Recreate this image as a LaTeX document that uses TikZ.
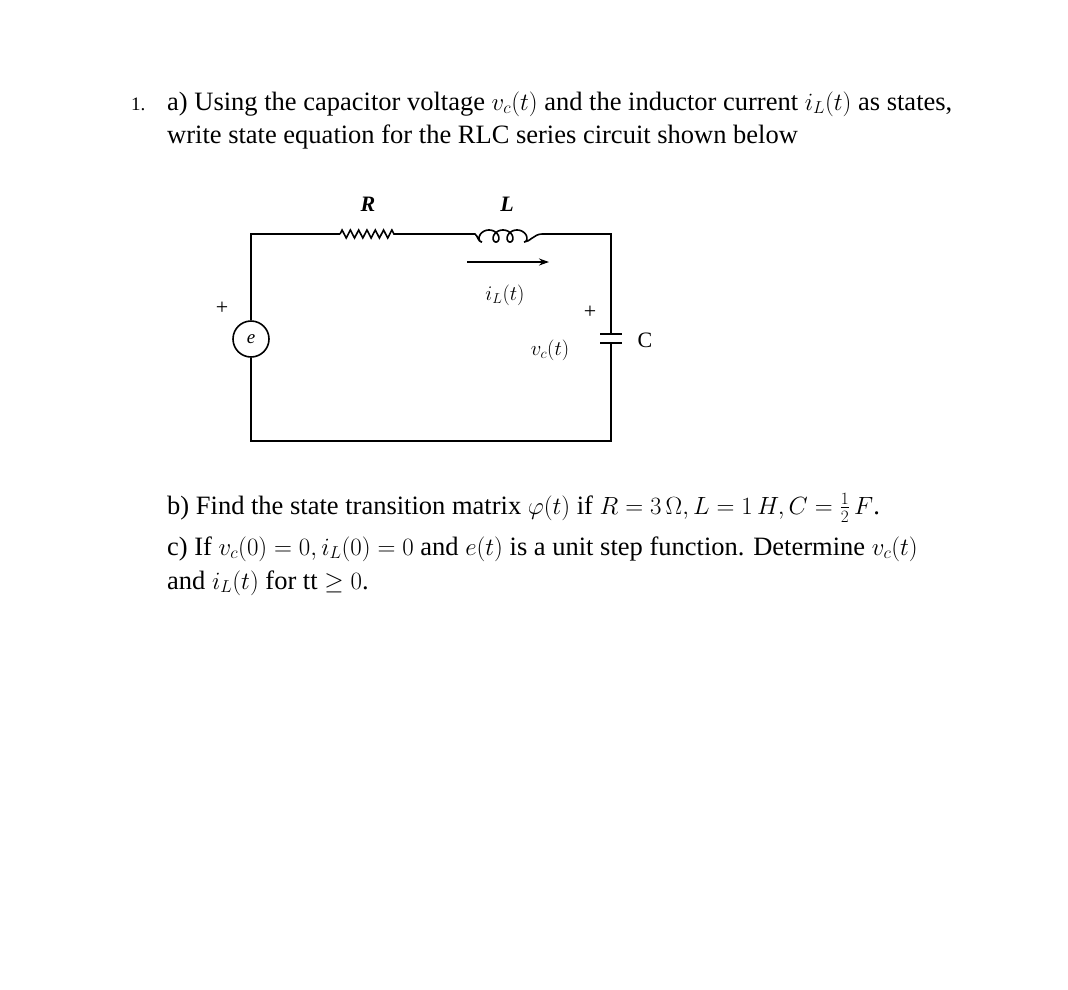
\documentclass[tikz,border=0pt]{standalone}
\usepackage{amsmath}
\usepackage{fontspec}
\setmainfont{Liberation Serif}
\usetikzlibrary{arrows.meta,decorations.pathmorphing}
\begin{document}
\begin{tikzpicture}[x=1pt,y=-1pt,
  txt/.style={anchor=base west,inner sep=0pt,font=\fontsize{26.5}{30}\selectfont},
  lab/.style={inner sep=0pt,font=\fontsize{22}{24}\selectfont},
  wire/.style={line width=1.6pt}]
\fill[white] (0,0) rectangle (1068,989);
\useasboundingbox (0,0) rectangle (1068,989);
\node[txt,font=\fontsize{19}{22}\selectfont] (n1) at (131,110) {1.};
\node[txt] (l1) at (167,110) {a) Using the capacitor voltage $v_c(t)$ and the inductor current $i_L(t)$ as states,};
\node[txt] (l2) at (167,143) {write state equation for the RLC series circuit shown below};
\node[txt] (l3) at (167,514) {b) Find the state transition matrix $\varphi(t)$ if $R=3\,\Omega, L=1\,H, C=\frac{1}{2}\,F$.};
\node[txt] (l4) at (167,555) {c) If $v_c(0)=0, i_L(0)=0$ and $e(t)$ is a unit step function. Determine $v_c(t)$};
\node[txt] (l5) at (167,589) {and $i_L(t)$ for tt $\geq 0$.};
% circuit
\node[draw,circle,wire,minimum size=36pt,inner sep=0pt,font=\fontsize{19}{20}\selectfont\itshape] (e) at (251,339) {e};
\coordinate (tl) at (251,234); \coordinate (tr) at (611,234);
\coordinate (bl) at (251,441); \coordinate (br) at (611,441);
\coordinate (r1) at (340,234); \coordinate (r2) at (398,234);
\coordinate (i1) at (475,234); \coordinate (i2) at (542,234);
\coordinate (c1) at (611,334); \coordinate (c2) at (611,343);
\draw[wire] (e.north) -- (tl) -- (r1);
\draw[wire,decoration={zigzag,segment length=8.3pt,amplitude=4pt},decorate] (r1) -- (r2);
\draw[wire] (r2) -- (i1) .. controls (478,236) and (478,242) .. (482,242)
  plot[domain=0:3,samples=120,smooth] ({482+14*\x-6*sin(360*\x)}, {236+6*cos(360*\x)})
  .. controls (530,242) and (534,234) .. (i2) -- (tr) -- (c1);
\draw[wire] (600,334) -- (622,334);
\draw[wire] (600,343) -- (622,343);
\draw[wire] (c2) -- (br) -- (bl) -- (e.south);
\draw[line width=1.6pt,-{Stealth[length=10pt,width=7pt]}] (467,262) -- (549,262);
\node[lab] (iL) at (505,295) {$i_L(t)$};
\node[lab] (vc) at (550,350) {$v_c(t)$};
\node[lab] (R) at (368,204) {\bfseries\itshape R};
\node[lab] (L) at (507,204) {\bfseries\itshape L};
\node[lab] (C) at (645,340) {C};
\node[lab] (p1) at (590,312) {+};
\node[lab] (p2) at (222,308) {+};
\end{tikzpicture}
\end{document}
